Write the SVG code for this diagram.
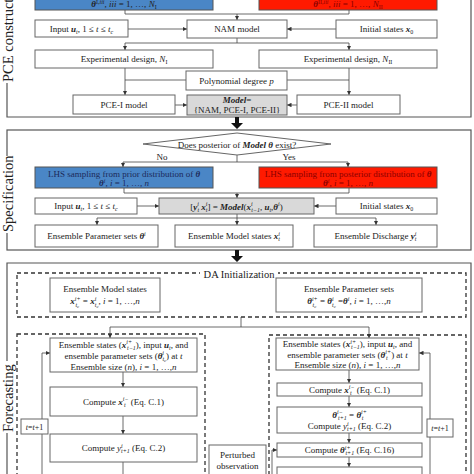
<svg xmlns="http://www.w3.org/2000/svg" width="474" height="474" viewBox="0 0 474 474">
<defs>
<marker id="a" viewBox="0 0 6 6" refX="6" refY="3" markerWidth="4.5" markerHeight="4.5" markerUnits="userSpaceOnUse" orient="auto"><path d="M0,0L6,3L0,6z" fill="#333"/></marker>
<style>
text{font-family:"Liberation Serif","Times New Roman",serif;font-size:9px;fill:#222;text-anchor:middle}
.bx{fill:#fff;stroke:#666;stroke-width:1}
.gr{fill:#d9d9d9;stroke:#666;stroke-width:1}
.bl{fill:#4a86c6;stroke:#555;stroke-width:1}
.rd{fill:#ff1a00;stroke:#555;stroke-width:1}
.fr{fill:none;stroke:#555;stroke-width:1.2}
.ds{fill:none;stroke:#333;stroke-width:1.3;stroke-dasharray:4 3}
.c{fill:none;stroke:#444;stroke-width:0.8}
.ar{marker-end:url(#a)}
.i{font-style:italic}
.bi{font-style:italic;font-weight:bold}
.s{font-size:6px}
.xs{font-size:4.5px}
.lab{font-size:14.5px;text-anchor:start}
.nav{fill:#1c2a5a}
.drd{fill:#8a0000}
</style>
</defs>
<rect width="474" height="474" fill="#fff"/>

<!-- section frames -->
<g id="frames">
<path class="fr" d="M7,-5 V117 H471 V-5"/>
<rect class="fr" x="7" y="130" width="464" height="120"/>
<path class="fr" d="M7,480 V263 H471 V480"/>
<path d="M235,117 h4 v6 h4 l-6,6 l-6,-6 h4 z" fill="#111"/>
<path d="M235,250 h4 v6 h4 l-6,6 l-6,-6 h4 z" fill="#111"/>
</g>
<g id="labels">
<rect x="0" y="-30" width="15" height="113" fill="#fff"/>
<text class="lab" transform="translate(13,82) rotate(-90)">PCE construction</text>
<rect x="0" y="156" width="15" height="77" fill="#fff"/>
<text class="lab" transform="translate(13,232) rotate(-90)">Specification</text>
<rect x="0" y="361" width="15" height="72" fill="#fff"/>
<text class="lab" transform="translate(13,432) rotate(-90)">Forecasting</text>
</g>

<!-- connectors -->
<g id="connectors">
<path class="c" d="M125,10 V14 H349 V10"/>
<path class="c ar" d="M237,14 V20"/>
<path class="c ar" d="M128,29 H187"/>
<path class="c ar" d="M336,29 H287"/>
<path class="c" d="M237,38 V43 M125,43 H349"/>
<path class="c ar" d="M125,43 V50"/>
<path class="c ar" d="M349,43 V50"/>
<path class="c ar" d="M125,68 V95"/>
<path class="c ar" d="M349,68 V95"/>
<path class="c" d="M125,80 H186 M287,80 H349"/>
<path class="c ar" d="M175,105 H187"/>
<path class="c ar" d="M297,105 H287"/>

<path class="c" d="M237,155 V162 M123,162 H348"/>
<path class="c ar" d="M123,162 V167"/>
<path class="c ar" d="M348,162 V167"/>
<path class="c" d="M124,188 V193 H349 V188"/>
<path class="c ar" d="M237,193 V198"/>
<path class="c ar" d="M137,206 H159"/>
<path class="c ar" d="M336,206 H314"/>
<path class="c" d="M237,214 V218 M97,218 H376"/>
<path class="c ar" d="M97,218 V225"/>
<path class="c ar" d="M237,218 V225"/>
<path class="c ar" d="M376,218 V225"/>

<path class="c" d="M241,317 V327 M110,327 H369"/>
<path class="c ar" d="M110,327 V338"/>
<path class="c ar" d="M369,327 V338"/>
<path class="c ar" d="M123,372 V387"/>
<path class="c ar" d="M123,416 V434"/>
<path class="c" d="M123,462 V480"/>
<path class="c ar" d="M42,480 V353 H50"/>
<path class="c ar" d="M349,370 V383"/>
<path class="c ar" d="M349,396 V407"/>
<path class="c ar" d="M349,433 V443"/>
<path class="c ar" d="M349,457 V467"/>
<path class="c ar" d="M430,480 V353 H419"/>
<path class="c ar" d="M272,480 V450 H277"/>
</g>

<!-- PCE construction -->
<g id="n-blue-top"><rect class="bl" x="35" y="-10" width="178" height="20"/>
<text x="124" y="7"><tspan class="bi">θ</tspan><tspan class="s" dy="-3.5">I,</tspan><tspan class="s i">iii</tspan><tspan dy="3.5">, </tspan><tspan class="i">iii</tspan> = 1, …, <tspan class="i">N</tspan><tspan class="s" dy="2">I</tspan></text></g>
<g id="n-red-top"><rect class="rd" x="259" y="-10" width="178" height="20"/>
<text x="348" y="7" class="drd"><tspan class="bi">θ</tspan><tspan class="s" dy="-3.5">II,</tspan><tspan class="s i">iii</tspan><tspan dy="3.5">, </tspan><tspan class="i">iii</tspan> = 1, …, <tspan class="i">N</tspan><tspan class="s" dy="2">II</tspan></text></g>
<g id="n-input1"><rect class="bx" x="35" y="20" width="93" height="17"/>
<text x="81.5" y="31.5">Input <tspan class="bi">u</tspan><tspan class="s i" dy="2">t</tspan><tspan dy="-2">, 1 ≤ </tspan><tspan class="i">t</tspan> ≤ <tspan class="i">t</tspan><tspan class="s i" dy="2">c</tspan></text></g>
<g id="n-nam"><rect class="bx" x="187" y="20" width="100" height="18"/><text x="237" y="32">NAM model</text></g>
<g id="n-init1"><rect class="bx" x="336" y="20" width="101" height="18"/>
<text x="386.5" y="32">Initial states <tspan class="bi">x</tspan><tspan class="s" dy="2">0</tspan></text></g>
<g id="n-exp1"><rect class="bx" x="35" y="50" width="178" height="18"/>
<text x="124" y="62">Experimental design, <tspan class="i">N</tspan><tspan class="s" dy="2">I</tspan></text></g>
<g id="n-exp2"><rect class="bx" x="259" y="50" width="178" height="18"/>
<text x="348" y="62">Experimental design, <tspan class="i">N</tspan><tspan class="s" dy="2">II</tspan></text></g>
<g id="n-poly"><rect class="bx" x="186" y="71" width="101" height="19"/>
<text x="236.5" y="83.5">Polynomial degree <tspan class="i">p</tspan></text></g>
<g id="n-pce1"><rect class="bx" x="73" y="95" width="102" height="19"/><text x="124" y="107.5">PCE-I model</text></g>
<g id="n-model"><rect class="gr" x="187" y="95" width="100" height="20"/>
<text x="237" y="103"><tspan class="bi">Model</tspan>=</text><text x="237" y="112.5">{NAM, PCE-I, PCE-II}</text></g>
<g id="n-pce2"><rect class="bx" x="297" y="95" width="103" height="19"/><text x="348.5" y="107.5">PCE-II model</text></g>

<!-- Specification -->
<g id="n-decision"><polygon points="143,144 237,133 331,144 237,155" fill="#fff" stroke="#666" stroke-width="1"/>
<text x="237" y="147.5">Does posterior of <tspan class="bi">Model</tspan> <tspan class="bi">θ</tspan> exist?</text></g>
<text x="162" y="159.5">No</text>
<text x="289" y="159.5">Yes</text>
<g id="n-lhs-prior"><rect class="bl" x="35" y="167" width="178" height="21"/>
<text x="124" y="176.5" class="nav">LHS sampling from prior distribution of <tspan class="bi">θ</tspan></text>
<text x="124" y="186" class="nav"><tspan class="bi">θ</tspan><tspan class="s i" dy="-3.5">i</tspan><tspan dy="3.5">, </tspan><tspan class="i">i</tspan> = 1, …, <tspan class="i">n</tspan></text></g>
<g id="n-lhs-post"><rect class="rd" x="259" y="167" width="178" height="21"/>
<text x="348" y="176.5" class="drd">LHS sampling from posterior distribution of <tspan class="bi">θ</tspan></text>
<text x="348" y="186" class="drd"><tspan class="bi">θ</tspan><tspan class="s i" dy="-3.5">i</tspan><tspan dy="3.5">, </tspan><tspan class="i">i</tspan> = 1, …, <tspan class="i">n</tspan></text></g>
<g id="n-input2"><rect class="bx" x="35" y="198" width="102" height="16"/>
<text x="86" y="209">Input <tspan class="bi">u</tspan><tspan class="s i" dy="2">t</tspan><tspan dy="-2">, 1 ≤ </tspan><tspan class="i">t</tspan> ≤ <tspan class="i">t</tspan><tspan class="s i" dy="2">c</tspan></text></g>
<g id="n-modelrun"><rect class="gr" x="159" y="198" width="155" height="16"/>
<text x="236.5" y="209.5">[<tspan class="bi">y</tspan><tspan class="s i" dy="-3.5">i</tspan><tspan class="s i" dx="-1.6" dy="5.5">t</tspan><tspan dy="-2">  </tspan><tspan class="bi">x</tspan><tspan class="s i" dy="-3.5">i</tspan><tspan class="s i" dx="-1.6" dy="5.5">t</tspan><tspan dy="-2">] = </tspan><tspan class="bi">Model</tspan>(<tspan class="bi">x</tspan><tspan class="s i" dy="-3.5">i</tspan><tspan class="s i" dx="-1.6" dy="5.5">t−1</tspan><tspan dy="-2">, </tspan><tspan class="bi">u</tspan><tspan class="s i" dy="2">t</tspan><tspan dy="-2">,</tspan><tspan class="bi">θ</tspan><tspan class="s i" dy="-3.5">i</tspan><tspan dy="3.5">)</tspan></text></g>
<g id="n-init2"><rect class="bx" x="336" y="198" width="101" height="16"/>
<text x="386.5" y="209">Initial states <tspan class="bi">x</tspan><tspan class="s" dy="2">0</tspan></text></g>
<g id="n-enspar"><rect class="bx" x="35" y="225" width="123" height="22"/>
<text x="96.5" y="239">Ensemble Parameter sets <tspan class="bi">θ</tspan><tspan class="s i" dy="-3.5">i</tspan></text></g>
<g id="n-ensmod"><rect class="bx" x="175" y="225" width="118" height="22"/>
<text x="234" y="239">Ensemble Model states <tspan class="bi">x</tspan><tspan class="s i" dy="-3.5">i</tspan><tspan class="s i" dx="-1.6" dy="5.5">t</tspan></text></g>
<g id="n-ensdis"><rect class="bx" x="314" y="225" width="123" height="22"/>
<text x="375.5" y="239">Ensemble Discharge <tspan class="bi">y</tspan><tspan class="s i" dy="-3.5">i</tspan><tspan class="s i" dx="-1.6" dy="5.5">t</tspan></text></g>

<!-- Forecasting -->
<g id="n-dainit"><rect class="ds" x="17" y="273" width="449" height="44"/>
<rect x="200" y="268" width="78" height="12" fill="#fff"/>
<text x="239" y="278" style="font-size:10.5px">DA Initialization</text></g>
<g id="n-da-states"><rect class="bx" x="50" y="278" width="110" height="34"/>
<text x="105" y="292">Ensemble Model states</text>
<text x="105" y="304"><tspan class="bi">x</tspan><tspan class="s i" dy="-3.5">i+</tspan><tspan class="s i" dx="-5" dy="6">t</tspan><tspan class="xs i" dy="1">c</tspan><tspan dx="1.5" dy="-3.5"> = </tspan><tspan class="bi">x</tspan><tspan class="s i" dy="-3.5">i</tspan><tspan class="s i" dx="-1.6" dy="6">t</tspan><tspan class="xs i" dy="1">c</tspan><tspan dy="-3.5">, </tspan><tspan class="i">i</tspan> = 1, …,<tspan class="i">n</tspan></text></g>
<g id="n-da-params"><rect class="bx" x="276" y="278" width="146" height="34"/>
<text x="349" y="292">Ensemble Parameter sets</text>
<text x="349" y="304"><tspan class="bi">θ</tspan><tspan class="s i" dy="-3.5">i+</tspan><tspan class="s i" dx="-5" dy="6">t</tspan><tspan class="xs i" dy="1">c</tspan><tspan dx="1.5" dy="-3.5"> = </tspan><tspan class="bi">θ</tspan><tspan class="s i" dy="-3.5">i</tspan><tspan class="s i" dx="-1.6" dy="6">t</tspan><tspan class="xs i" dy="1">c</tspan><tspan dy="-3.5"> =</tspan><tspan class="bi">θ</tspan><tspan class="s i" dy="-3.5">i</tspan><tspan dy="3.5">, </tspan><tspan class="i">i</tspan> = 1, …,<tspan class="i">n</tspan></text></g>

<g id="n-fc-left"><rect class="ds" x="17" y="334" width="188" height="160"/></g>
<g id="n-fc-right"><rect class="ds" x="269" y="335" width="197" height="160"/></g>

<g id="n-left-in"><rect class="bx" x="50" y="338" width="147" height="34"/>
<text x="123.5" y="347.5">Ensemble states (<tspan class="bi">x</tspan><tspan class="s i" dy="-3.5">i+</tspan><tspan class="s i" dx="-5" dy="5.5">t−1</tspan><tspan dy="-2">), input  </tspan><tspan class="bi">u</tspan><tspan class="s i" dy="2">t</tspan><tspan dy="-2">, and</tspan></text>
<text x="123.5" y="358.5">ensemble parameter sets (<tspan class="bi">θ</tspan><tspan class="s i" dy="-3.5">i</tspan><tspan class="s i" dx="-1.6" dy="6">t</tspan><tspan class="xs i" dy="1">c</tspan><tspan dy="-3.5">) at </tspan><tspan class="i">t</tspan></text>
<text x="123.5" y="369.5">Ensemble size (<tspan class="i">n</tspan>), <tspan class="i">i</tspan> = 1, …,<tspan class="i">n</tspan></text></g>
<g id="n-left-cx"><rect class="bx" x="50" y="387" width="147" height="29"/>
<text x="123.5" y="404.5">Compute <tspan class="bi">x</tspan><tspan class="s i" dy="-3.5">i−</tspan><tspan class="s i" dx="-4.5" dy="5.5">t</tspan><tspan dx="3" dy="-2"> (Eq. C.1)</tspan></text></g>
<g id="n-left-cy"><rect class="bx" x="50" y="434" width="147" height="28"/>
<text x="123.5" y="451">Compute <tspan class="i">y</tspan><tspan class="s i" dy="-3.5">i</tspan><tspan class="s i" dx="-1.6" dy="5.5">t+1</tspan><tspan dy="-2"> (Eq. C.2)</tspan></text></g>
<g id="n-left-t"><rect class="bx" x="21" y="419" width="27" height="15"/>
<text x="34.5" y="429.5" style="font-size:8px"><tspan class="i">t</tspan>=<tspan class="i">t</tspan>+1</text></g>

<g id="n-right-in"><rect class="bx" x="276" y="338" width="143" height="32"/>
<text x="347.5" y="347">Ensemble states (<tspan class="bi">x</tspan><tspan class="s i" dy="-3.5">i+</tspan><tspan class="s i" dx="-5" dy="5.5">t−1</tspan><tspan dy="-2">), input  </tspan><tspan class="bi">u</tspan><tspan class="s i" dy="2">t</tspan><tspan dy="-2">, and</tspan></text>
<text x="347.5" y="357.5">ensemble parameter sets (<tspan class="bi">θ</tspan><tspan class="s i" dy="-3.5">i+</tspan><tspan class="s i" dx="-5" dy="5.5">t</tspan><tspan dx="3.5" dy="-2">) at </tspan><tspan class="i">t</tspan></text>
<text x="347.5" y="368">Ensemble size (<tspan class="i">n</tspan>), <tspan class="i">i</tspan> = 1, …,<tspan class="i">n</tspan></text></g>
<g id="n-right-cx"><rect class="bx" x="277" y="383" width="145" height="13"/>
<text x="349.5" y="392.5">Compute <tspan class="bi">x</tspan><tspan class="s i" dy="-3.5">i−</tspan><tspan class="s i" dx="-4.5" dy="5.5">t</tspan><tspan dx="3" dy="-2"> (Eq. C.1)</tspan></text></g>
<g id="n-right-th"><rect class="bx" x="277" y="407" width="145" height="26"/>
<text x="349.5" y="417.5"><tspan class="bi">θ</tspan><tspan class="s i" dy="-3.5">i−</tspan><tspan class="s i" dx="-4.5" dy="5.5">t+1</tspan><tspan dy="-2"> = </tspan><tspan class="bi">θ</tspan><tspan class="s i" dy="-3.5">i+</tspan><tspan class="s i" dx="-5" dy="5.5">t</tspan></text>
<text x="349.5" y="429">Compute <tspan class="i">y</tspan><tspan class="s i" dy="-3.5">i</tspan><tspan class="s i" dx="-1.6" dy="5.5">t+1</tspan><tspan dy="-2"> (Eq. C.2)</tspan></text></g>
<g id="n-right-ct"><rect class="bx" x="277" y="443" width="145" height="14"/>
<text x="349.5" y="453">Compute <tspan class="bi">θ</tspan><tspan class="s i" dy="-3.5">i+</tspan><tspan class="s i" dx="-5" dy="5.5">t+1</tspan><tspan dy="-2"> (Eq. C.16)</tspan></text></g>
<g id="n-right-next"><rect class="bx" x="277" y="467" width="145" height="20"/></g>
<g id="n-right-t"><rect class="bx" x="427" y="419" width="26" height="18"/>
<text x="440" y="431" style="font-size:8px"><tspan class="i">t</tspan>=<tspan class="i">t</tspan>+1</text></g>
<g id="n-perturbed"><rect class="bx" x="209" y="445" width="57" height="40"/>
<text x="237.5" y="458">Perturbed</text><text x="237.5" y="469">observation</text></g>
</svg>
